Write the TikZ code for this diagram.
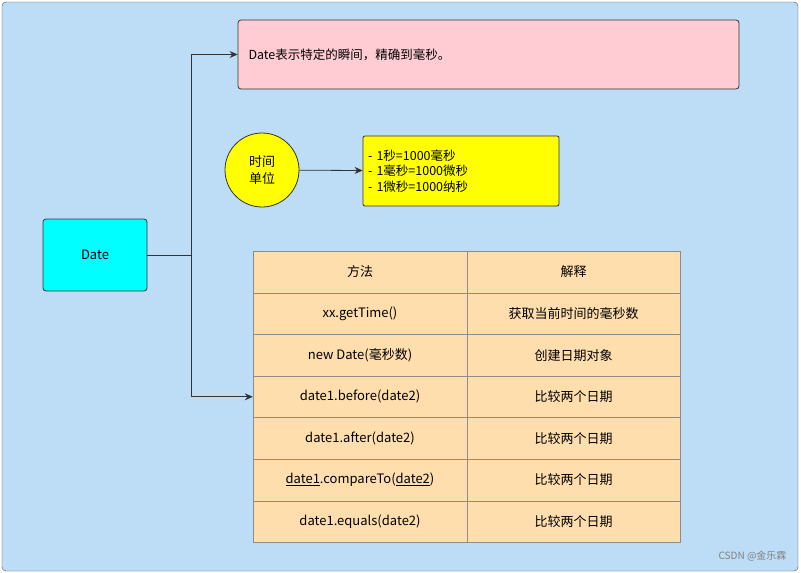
\documentclass[tikz,border=0pt]{standalone}
\usepackage{fontspec}
\setmainfont{Noto Sans CJK SC}
\usepackage{tikz}
\usetikzlibrary{arrows.meta}
\definecolor{bgblue}{HTML}{BDDDF7}
\definecolor{pinkbox}{HTML}{FFCCD3}
\definecolor{cellfill}{HTML}{FFDEAD}
\definecolor{aqua}{HTML}{00FFFF}
\definecolor{yel}{HTML}{FFFF00}
\tikzset{
  box/.style={draw=black!80, thick, rounded corners=3pt},
  arrow/.style={thick, draw=black!80, -{Stealth[length=8pt,width=7pt]}},
  line/.style={thick, draw=black!80},
  cell/.style={draw=black!45, fill=cellfill, minimum width=214pt, minimum height=41.6pt, inner sep=0pt, font=\fontsize{13}{15}\selectfont},
}
\begin{document}
\begin{tikzpicture}[x=1pt,y=-1pt]
	\useasboundingbox (0,0) rectangle (801,573);
	\draw[fill=bgblue, draw=black!70, rounded corners=4pt] (2,2) rectangle (798,571);
	
	\node (date) [box, fill=aqua, minimum width=104pt, minimum height=72pt, font=\fontsize{13}{15}\selectfont] at (95,255) {Date};
	\node (desc) [box, fill=pinkbox, minimum width=501pt, minimum height=69pt, text width=480pt, align=left, font=\fontsize{12.5}{15}\selectfont] at (488.5,54.5) {Date表示特定的瞬间，精确到毫秒。};
	\node (unit) [circle, draw=black!80, thick, fill=yel, minimum size=74pt, inner sep=0pt, align=center, font=\fontsize{13}{17}\selectfont] at (262,170) {时间\\单位};
	\node (conv) [box, fill=yel, rounded corners=2pt, minimum width=196pt, minimum height=70pt, text width=186pt, align=left, font=\fontsize{12.5}{15.5}\selectfont] at (461,171) {- 1秒=1000毫秒\\- 1毫秒=1000微秒\\- 1微秒=1000纳秒};
	
	% table
	\foreach \i/\m/\e in {0/方法/解释, 1/xx.getTime()/获取当前时间的毫秒数, 2/new Date(毫秒数)/创建日期对象, 3/date1.before(date2)/比较两个日期, 4/date1.after(date2)/比较两个日期, 5/\underline{date1}.compareTo(\underline{date2})/比较两个日期, 6/date1.equals(date2)/比较两个日期} {
		\node (m\i) [cell] at (360,272+\i*41.6) {\m};
		\node (e\i) [cell, minimum width=213pt] at (573.5,272+\i*41.6) {\e};
	}
	
	\coordinate (fork) at (191,255);
	\draw [line] (date.east) -- (fork);
	\draw [arrow] (fork) |- (desc.west);
	\draw [arrow] (fork) |- (m3.west);
	\draw [arrow] (unit) -- (conv);
	
	\node (mark) [text=gray, font=\fontsize{10}{12}\selectfont, anchor=east] at (790,556) {CSDN @金乐霖};
\end{tikzpicture}
\end{document}
